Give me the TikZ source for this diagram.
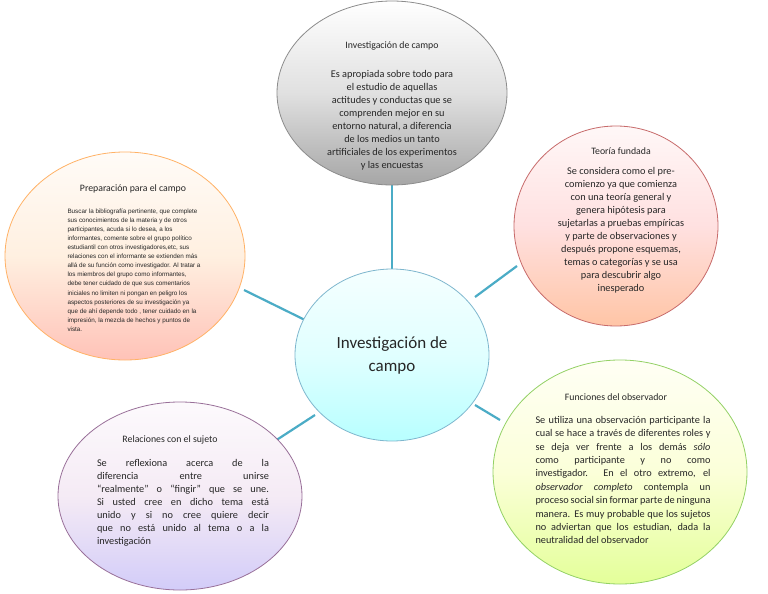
\documentclass[tikz,border=0pt]{standalone}
\usepackage{fontspec}
\setmainfont{Carlito}
\newfontfamily\arialf{Liberation Sans}
\definecolor{tealc}{HTML}{4BACC6}
\begin{document}
\begin{tikzpicture}[x=1pt,y=-1pt,
 conn/.style={draw=tealc, line width=2.2pt},
 ttl/.style={font=\fontsize{9.8}{12}\selectfont, text=black!85},
 body/.style={font=\fontsize{10.3}{13}\selectfont, text=black!85}]
\useasboundingbox (0,0) rectangle (768,594);
\fill[white] (0,0) rectangle (768,594);
\draw[conn] (392,185) -- (392,270);
\draw[conn] (475,297) -- (517,266);
\draw[conn] (305,320) -- (244,290);
\draw[conn] (315,415) -- (275,441);
\draw[conn] (475,405) -- (500,420);
% gray
\path[draw=black!45, line width=0.8pt, top color=white, bottom color=black!35, middle color=black!12] (392,93) ellipse (115 and 92);
% red
\path[draw=red!45!gray!80, line width=0.8pt, top color=red!3, bottom color=red!30!orange!35, middle color=red!12] (616,226) ellipse (102 and 100);
% orange
\path[draw=orange!60, line width=0.8pt, top color=orange!3, bottom color=orange!30!red!28, middle color=orange!12] (125,256) ellipse (120 and 104);
% purple
\path[draw=violet!40!gray!80, line width=0.8pt, top color=violet!2, bottom color=violet!25!blue!20, middle color=violet!8] (180,496) ellipse (122 and 94);
% green
\path[draw=green!40!olive!60, line width=0.8pt, top color=yellow!4, bottom color=green!30!yellow!40!lime!40, middle color=green!10!yellow!15] (620,472) ellipse (127 and 112);
% blue
\path[draw=cyan!50!gray!80, line width=0.8pt, top color=cyan!4, bottom color=cyan!28, middle color=cyan!12] (392,355) ellipse (97 and 86);

\node[font=\fontsize{17}{23}\selectfont, align=center, text=black!85] (cen) at (392,355) {Investigación de\\campo};

\node[ttl] (t1) at (392,46) {Investigación de campo};
\node[body, align=center] (b1) at (392,120) {Es apropiada sobre todo para\\el estudio de aquellas\\actitudes y conductas que se\\comprenden mejor en su\\entorno natural, a diferencia\\de los medios un tanto\\artificiales de los experimentos\\y las encuestas};

\node[ttl] (t2) at (621,151) {Teoría fundada};
\node[body, align=center] (b2) at (621,230) {Se considera como el pre-\\comienzo ya que comienza\\con una teoría general y\\genera hipótesis para\\sujetarlas a pruebas empíricas\\y parte de observaciones y\\después propone esquemas,\\temas o categorías y se usa\\para descubrir algo\\inesperado};

\node[ttl] (t3) at (133,189) {Preparación para el campo};
\node[align=left, font=\arialf\fontsize{6.3}{9.1}\selectfont, text=black!85] (b3) at (134,270) {Buscar la bibliografía pertinente, que complete\\sus conocimientos de la materia y de otros\\participantes, acuda si lo desea, a los\\informantes, comente sobre el grupo político\\estudiantil con otros investigadores,etc, sus\\relaciones con el informante se extienden más\\allá de su función como investigador. Al tratar a\\los miembros del grupo como informantes,\\debe tener cuidado de que sus comentarios\\iniciales no limiten ni pongan en peligro los\\aspectos posteriores de su investigación ya\\que de ahí depende todo , tener cuidado en la\\impresión, la mezcla de hechos y puntos de\\vista.};

\node[ttl] (t4) at (170,440) {Relaciones con el sujeto};
\node[body, align=justify, text width=172pt] (b4) at (183,503) {Se reflexiona acerca de la\linebreak diferencia entre unirse\linebreak ``realmente'' o ``fingir'' que se une.\linebreak Si usted cree en dicho tema está\linebreak unido y si no cree quiere decir\linebreak que no está unido al tema o a la\linebreak investigación};

\node[ttl] (t5) at (616,397) {Funciones del observador};
\node[body, align=justify, text width=175pt, font=\fontsize{10.3}{13.4}\selectfont] (b5) at (623,480) {Se utiliza una observación participante la\linebreak cual se hace a través de diferentes roles y\linebreak se deja ver frente a los demás \emph{sólo}\linebreak como participante y no como\linebreak investigador. En el otro extremo, el\linebreak \emph{observador completo} contempla un\linebreak proceso social sin formar parte de ninguna\linebreak manera. Es muy probable que los sujetos\linebreak no adviertan que los estudian, dada la\linebreak neutralidad del observador};
\end{tikzpicture}
\end{document}
